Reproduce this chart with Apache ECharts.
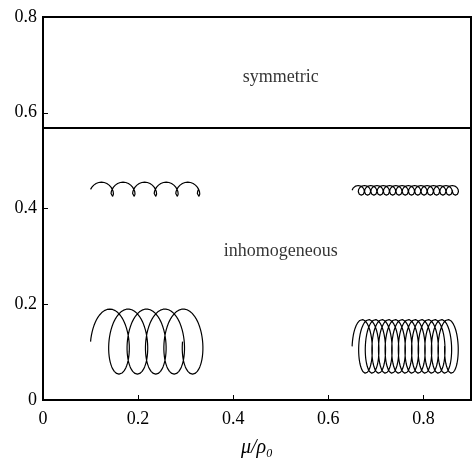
<!DOCTYPE html>
<html><head><meta charset="utf-8">
<script src="https://cdn.jsdelivr.net/npm/echarts@6/dist/echarts.min.js"></script>
<style>html,body{margin:0;padding:0;background:#fff}#c{width:474px;height:474px}</style>
</head><body><div id="c"></div>
<script>
// x ticks / y ticks
const xTicks = [0, 0.2, 0.4, 0.6, 0.8];
const yTicks = [0, 0.2, 0.4, 0.6, 0.8];
const boundaryY = 0.568;
const labels = [
  {text: 'symmetric', x: 0.5, y: 0.675},
  {text: 'inhomogeneous', x: 0.5, y: 0.31}
];
// trochoid illustration params
const curveStart = [0.10, 0.65, 0.10, 0.65];
const curveEnd   = [0.35, 0.88, 0.355, 0.88];
const curveYc    = [0.440, 0.438, 0.122, 0.112];
const curveAmp   = [0.015, 0.010, 0.068, 0.056];
const curveLoops = [5, 16, 5, 14];
const curveK     = [1.6, 4.5, 5, 8];

function trochoid(i){
  const pts=[]; const n=curveLoops[i], k=curveK[i];
  const span=curveEnd[i]-curveStart[i];
  const a=span/(2*Math.PI*n+2*k);
  const t0=0.5*Math.PI, t1=(2*n+0.5)*Math.PI;
  for(let j=0;j<=n*120;j++){
    const t=t0+(t1-t0)*j/(n*120);
    pts.push([curveStart[i]+a*(t-t0-k*Math.sin(t)+k), curveYc[i]-curveAmp[i]*Math.cos(t)]);
  }
  return pts;
}
const font='"Liberation Serif","DejaVu Serif",serif';
const series=[0,1,2,3].map(i=>({type:'line',data:trochoid(i),showSymbol:false,silent:true,
  lineStyle:{color:'#000',width:1.2}}));
series.push({type:'line',data:[[0,boundaryY],[0.9,boundaryY]],showSymbol:false,lineStyle:{color:'#000',width:2}});
series.push({type:'scatter',symbolSize:0,data:labels.map(l=>[l.x,l.y,l.text]),
  label:{show:true,formatter:p=>p.data[2],color:'#000',fontSize:18,fontFamily:font,position:'inside'}});
const chart=echarts.init(document.getElementById('c'));
chart.setOption({animation:false,
  grid:{left:43,top:17,right:-1,bottom:74,show:true,borderColor:'#000',borderWidth:2,backgroundColor:'transparent'},
  xAxis:{type:'value',min:0,max:0.9,interval:0.2,name:'μ/ρ₀',nameLocation:'middle',nameGap:38,
    nameTextStyle:{fontFamily:font,fontSize:20,fontStyle:'italic',color:'#000'},
    axisLine:{onZero:false,lineStyle:{color:'#000',width:2}},axisTick:{inside:true,length:5,lineStyle:{color:'#000'}},
    splitLine:{show:false},axisLabel:{fontFamily:font,fontSize:18,color:'#000',margin:10,
    formatter:v=>xTicks.some(t=>Math.abs(t-v)<1e-9)?String(+v.toFixed(1)):''}},
  yAxis:{type:'value',min:0,max:0.8,interval:0.2,
    axisLine:{onZero:false,lineStyle:{color:'#000',width:2}},axisTick:{inside:true,length:5,lineStyle:{color:'#000'}},
    splitLine:{show:false},axisLabel:{fontFamily:font,fontSize:18,color:'#000',margin:6,
    formatter:v=>yTicks.some(t=>Math.abs(t-v)<1e-9)?String(+v.toFixed(1)):''}},
  series});
</script></body></html>
